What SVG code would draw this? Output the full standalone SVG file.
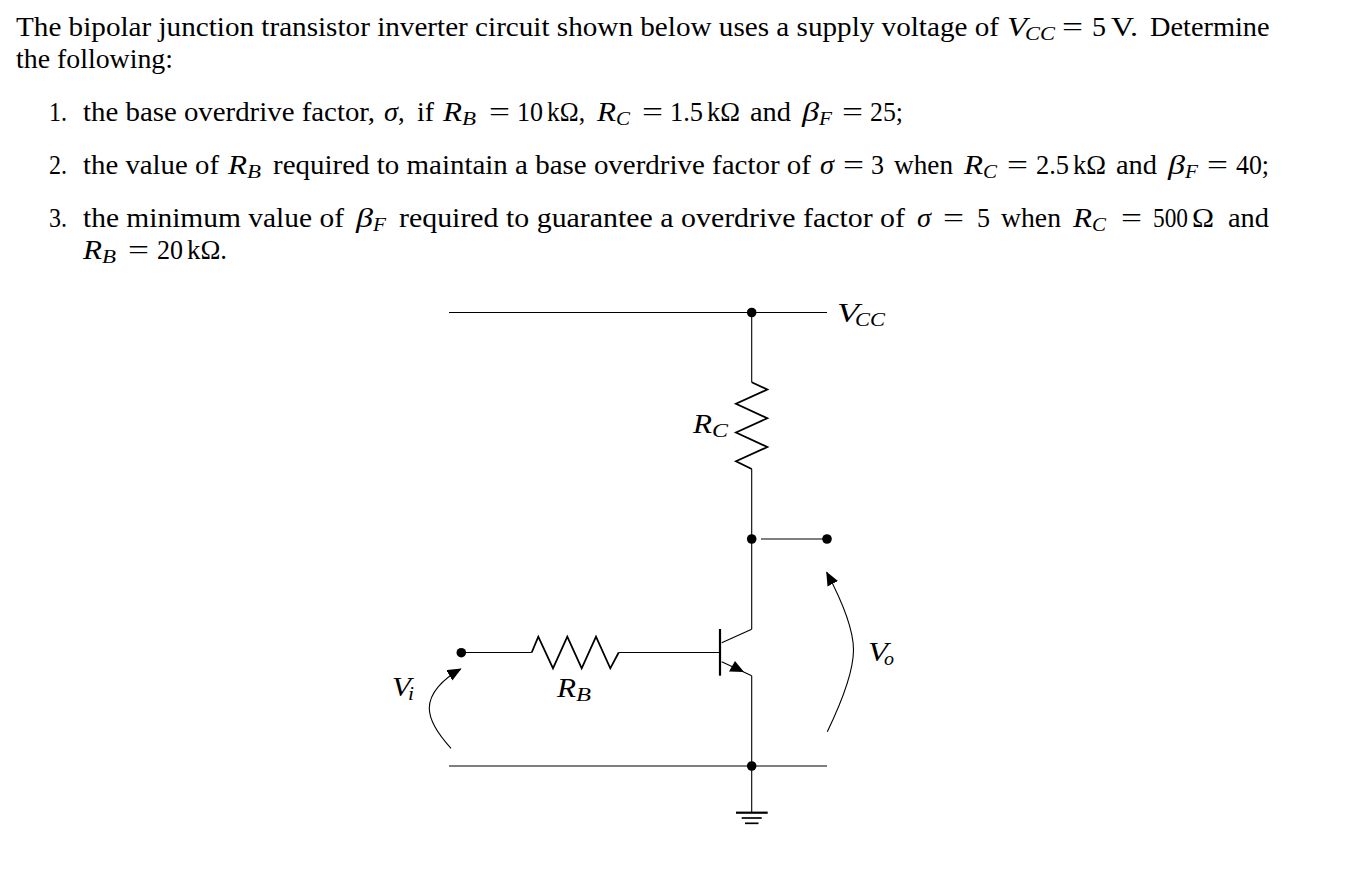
<svg xmlns="http://www.w3.org/2000/svg" width="1365" height="876" viewBox="0 0 1365 876">
<style>
text{font-family:"Liberation Serif","Times New Roman",serif;font-size:26.500px;fill:#000}
.m{font-style:italic}
.s{font-size:18.500px;font-style:italic}
.w{fill:none;stroke:#000;stroke-width:1.1}
.r{fill:none;stroke:#000;stroke-width:1.8;stroke-linejoin:miter}
.b{fill:none;stroke:#000;stroke-width:2.2}
.d{fill:#000}
</style>
<defs>
<marker id="ah" viewBox="0 0 14 12" refX="13" refY="6" markerWidth="14" markerHeight="12" markerUnits="userSpaceOnUse" orient="auto"><path d="M0 0L14 6L0 12Z" fill="#000"/></marker>
</defs>
<g id="problem-text">
<text x="16" y="36" textLength="983" lengthAdjust="spacingAndGlyphs">The bipolar junction transistor inverter circuit shown below uses a supply voltage of</text>
<text class="m" x="1007" y="36" textLength="20" lengthAdjust="spacingAndGlyphs">V</text><text class="s" x="1025" y="40" textLength="30" lengthAdjust="spacingAndGlyphs">CC</text>
<text x="1062" y="36" textLength="21" lengthAdjust="spacingAndGlyphs">=</text>
<text x="1092" y="36" textLength="14" lengthAdjust="spacingAndGlyphs">5</text>
<text x="1111" y="36" textLength="27" lengthAdjust="spacingAndGlyphs">V.</text>
<text x="1150" y="36" textLength="119.500" lengthAdjust="spacingAndGlyphs">Determine</text>
<text x="16" y="68" textLength="157" lengthAdjust="spacingAndGlyphs">the following:</text>

<text x="49" y="121" textLength="18" lengthAdjust="spacingAndGlyphs">1.</text>
<text x="83" y="121" textLength="292" lengthAdjust="spacingAndGlyphs">the base overdrive factor,</text>
<text class="m" x="384" y="121" textLength="14" lengthAdjust="spacingAndGlyphs">σ</text><text x="398" y="121">,</text>
<text x="417" y="121" textLength="17" lengthAdjust="spacingAndGlyphs">if</text>
<text class="m" x="443" y="121" textLength="19" lengthAdjust="spacingAndGlyphs">R</text><text class="s" x="462" y="125" textLength="14" lengthAdjust="spacingAndGlyphs">B</text>
<text x="489" y="121" textLength="21" lengthAdjust="spacingAndGlyphs">=</text>
<text x="517" y="121" textLength="26" lengthAdjust="spacingAndGlyphs">10</text>
<text x="547" y="121" textLength="38" lengthAdjust="spacingAndGlyphs">kΩ,</text>
<text class="m" x="597" y="121" textLength="19" lengthAdjust="spacingAndGlyphs">R</text><text class="s" x="616" y="125" textLength="14" lengthAdjust="spacingAndGlyphs">C</text>
<text x="642" y="121" textLength="21" lengthAdjust="spacingAndGlyphs">=</text>
<text x="670" y="121" textLength="33" lengthAdjust="spacingAndGlyphs">1.5</text>
<text x="707" y="121" textLength="33" lengthAdjust="spacingAndGlyphs">kΩ</text>
<text x="750" y="121" textLength="41" lengthAdjust="spacingAndGlyphs">and</text>
<text class="m" x="802" y="121" textLength="17" lengthAdjust="spacingAndGlyphs">β</text><text class="s" x="819" y="125" textLength="13" lengthAdjust="spacingAndGlyphs">F</text>
<text x="842" y="121" textLength="21" lengthAdjust="spacingAndGlyphs">=</text>
<text x="870" y="121" textLength="33" lengthAdjust="spacingAndGlyphs">25;</text>

<text x="49" y="174" textLength="18" lengthAdjust="spacingAndGlyphs">2.</text>
<text x="83" y="174" textLength="136" lengthAdjust="spacingAndGlyphs">the value of</text>
<text class="m" x="228" y="174" textLength="19" lengthAdjust="spacingAndGlyphs">R</text><text class="s" x="247" y="178" textLength="14" lengthAdjust="spacingAndGlyphs">B</text>
<text x="273" y="174" textLength="538" lengthAdjust="spacingAndGlyphs">required to maintain a base overdrive factor of</text>
<text class="m" x="820" y="174" textLength="14" lengthAdjust="spacingAndGlyphs">σ</text>
<text x="843" y="174" textLength="21" lengthAdjust="spacingAndGlyphs">=</text>
<text x="871" y="174" textLength="13" lengthAdjust="spacingAndGlyphs">3</text>
<text x="894" y="174" textLength="59" lengthAdjust="spacingAndGlyphs">when</text>
<text class="m" x="964" y="174" textLength="19" lengthAdjust="spacingAndGlyphs">R</text><text class="s" x="983" y="178" textLength="14" lengthAdjust="spacingAndGlyphs">C</text>
<text x="1007" y="174" textLength="21" lengthAdjust="spacingAndGlyphs">=</text>
<text x="1036" y="174" textLength="33" lengthAdjust="spacingAndGlyphs">2.5</text>
<text x="1073" y="174" textLength="33" lengthAdjust="spacingAndGlyphs">kΩ</text>
<text x="1116" y="174" textLength="41" lengthAdjust="spacingAndGlyphs">and</text>
<text class="m" x="1168" y="174" textLength="17" lengthAdjust="spacingAndGlyphs">β</text><text class="s" x="1185" y="178" textLength="13" lengthAdjust="spacingAndGlyphs">F</text>
<text x="1207" y="174" textLength="21" lengthAdjust="spacingAndGlyphs">=</text>
<text x="1236" y="174" textLength="33" lengthAdjust="spacingAndGlyphs">40;</text>

<text x="49" y="227" textLength="18" lengthAdjust="spacingAndGlyphs">3.</text>
<text x="83" y="227" textLength="261" lengthAdjust="spacingAndGlyphs">the minimum value of</text>
<text class="m" x="356" y="227" textLength="17" lengthAdjust="spacingAndGlyphs">β</text><text class="s" x="373" y="231" textLength="13" lengthAdjust="spacingAndGlyphs">F</text>
<text x="399" y="227" textLength="506" lengthAdjust="spacingAndGlyphs">required to guarantee a overdrive factor of</text>
<text class="m" x="917" y="227" textLength="14" lengthAdjust="spacingAndGlyphs">σ</text>
<text x="943" y="227" textLength="21" lengthAdjust="spacingAndGlyphs">=</text>
<text x="977" y="227" textLength="13" lengthAdjust="spacingAndGlyphs">5</text>
<text x="1001" y="227" textLength="60" lengthAdjust="spacingAndGlyphs">when</text>
<text class="m" x="1073" y="227" textLength="19" lengthAdjust="spacingAndGlyphs">R</text><text class="s" x="1092" y="231" textLength="14" lengthAdjust="spacingAndGlyphs">C</text>
<text x="1121" y="227" textLength="21" lengthAdjust="spacingAndGlyphs">=</text>
<text x="1153" y="227" textLength="35" lengthAdjust="spacingAndGlyphs">500</text>
<text x="1192" y="227" textLength="22" lengthAdjust="spacingAndGlyphs">Ω</text>
<text x="1228" y="227" textLength="41" lengthAdjust="spacingAndGlyphs">and</text>

<text class="m" x="83" y="259" textLength="19" lengthAdjust="spacingAndGlyphs">R</text><text class="s" x="102" y="263" textLength="14" lengthAdjust="spacingAndGlyphs">B</text>
<text x="128" y="259" textLength="21" lengthAdjust="spacingAndGlyphs">=</text>
<text x="157" y="259" textLength="26" lengthAdjust="spacingAndGlyphs">20</text>
<text x="187" y="259" textLength="40" lengthAdjust="spacingAndGlyphs">kΩ.</text>
</g>

<g id="connectors">
<path class="w" d="M449 312.500H827"/>
<path class="w" d="M751.700 312.500V382.300"/>
<path class="w" d="M751.700 469V629.300"/>
<path class="w" d="M761 539H827"/>
<path class="w" d="M461.300 652.500H531.700"/>
<path class="w" d="M618.700 652.500H720"/>
<path class="w" d="M751.700 675.700V812.700"/>
<path class="w" d="M449 766H827"/>
<path class="w" marker-end="url(#ah)" d="M451 748.300C437 733 429.300 720 429.300 708.300C429.300 693 443 679 460.700 669"/>
<path class="w" marker-end="url(#ah)" d="M827.300 731.700C845 695 853.500 670 853.500 650C853.500 630 843 603 826.700 572.300"/>
</g>

<g id="node-vcc"><circle class="d" cx="751.700" cy="312.500" r="4.800"/><text class="m" x="837" y="322" textLength="22" lengthAdjust="spacingAndGlyphs">V</text><text class="s" x="855" y="326" textLength="30" lengthAdjust="spacingAndGlyphs">CC</text></g>
<g id="node-rc"><path class="r" d="M751.700 382.300L767.300 389.500L736 403.800L767.300 418.200L736 432.500L767.300 447L736 461.300L751.700 469"/><text class="m" x="693" y="433" textLength="19" lengthAdjust="spacingAndGlyphs">R</text><text class="s" x="712" y="437" textLength="16" lengthAdjust="spacingAndGlyphs">C</text></g>
<g id="node-output"><circle class="d" cx="751.700" cy="539" r="4.800"/><circle class="d" cx="827" cy="539" r="4.800"/></g>
<g id="node-vo"><text class="m" x="868" y="661" textLength="20" lengthAdjust="spacingAndGlyphs">V</text><text class="s" x="884" y="665" textLength="10" lengthAdjust="spacingAndGlyphs">o</text></g>
<g id="node-input"><circle class="d" cx="461.300" cy="652.700" r="4.800"/></g>
<g id="node-vi"><text class="m" x="392" y="696" textLength="19" lengthAdjust="spacingAndGlyphs">V</text><text class="s" x="408" y="700" textLength="6" lengthAdjust="spacingAndGlyphs">i</text></g>
<g id="node-rb"><path class="r" d="M531.700 652.500L538.300 636.700L553 668.300L567.300 636.700L581.700 668.300L596 636.700L610.300 668.300L618.700 652.500"/><text class="m" x="557" y="697" textLength="19" lengthAdjust="spacingAndGlyphs">R</text><text class="s" x="576" y="701" textLength="15" lengthAdjust="spacingAndGlyphs">B</text></g>
<g id="node-transistor">
<path class="b" d="M720 629V675.700"/>
<path class="w" d="M751.700 629.300L721.700 642.700"/>
<path class="w" d="M721.700 661.700L751.700 675.700"/>
<path class="d" d="M744 672L729 671.500L735 661Z"/>
</g>
<g id="node-ground-junction"><circle class="d" cx="751.700" cy="766" r="4.800"/></g>
<g id="node-ground"><path class="b" d="M736 812.700H767.700"/><path class="w" style="stroke-width:1.7" d="M741.700 818H761.700"/><path class="w" style="stroke-width:1.7" d="M745 823.300H758.500"/></g>
</svg>
